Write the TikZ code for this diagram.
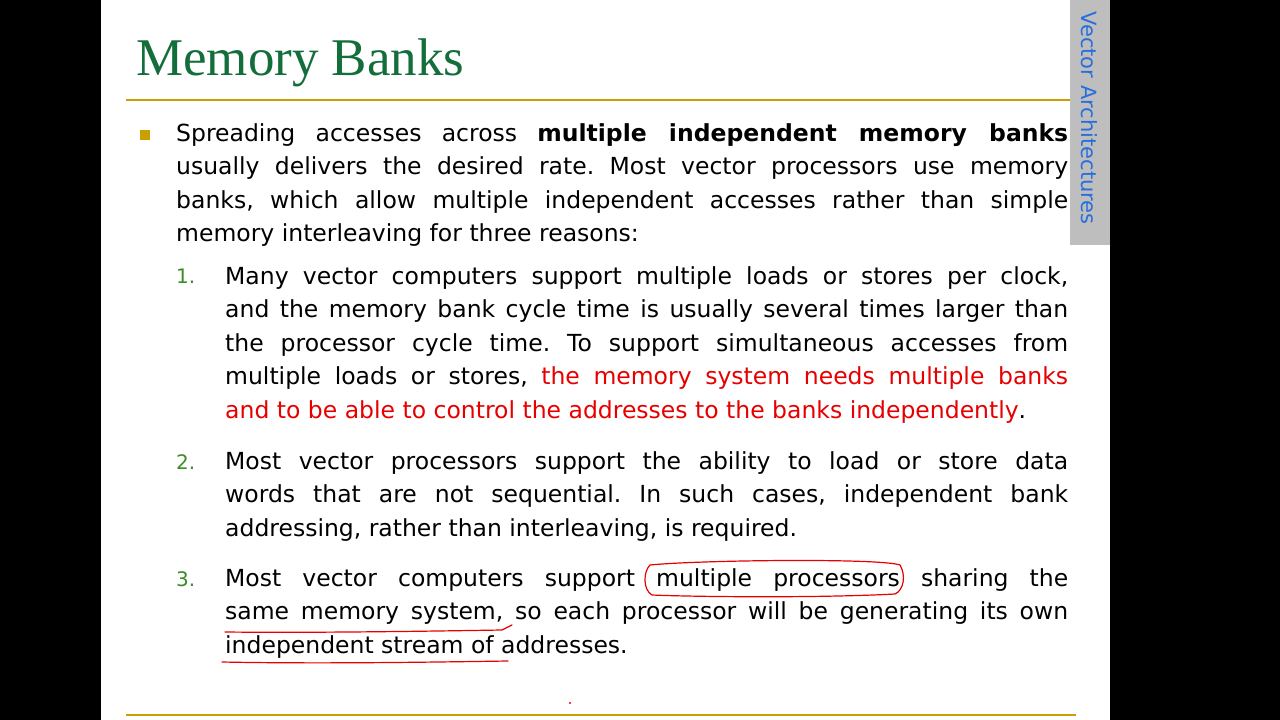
\documentclass[tikz,border=0pt]{standalone}
\usepackage{fontspec}
\setmainfont{Liberation Serif}
\newfontfamily\bodyf{DejaVu Sans}[Scale=1.0]
\frenchspacing
\definecolor{ttl}{RGB}{20,110,60}
\definecolor{gld}{RGB}{200,160,0}
\definecolor{tabg}{RGB}{190,190,190}
\definecolor{tabt}{RGB}{40,110,220}
\definecolor{rd}{RGB}{230,0,0}
\definecolor{num}{RGB}{60,140,40}
\tikzset{para/.style={anchor=north west,inner sep=0pt,align=justify,font=\bodyf\fontsize{23.5}{33.5}\selectfont},
num/.style={anchor=north west,inner sep=0pt,text=num,font=\bodyf\fontsize{20}{33.5}\selectfont},
pen/.style={draw=rd,line width=1.2pt,line cap=round}}
\begin{document}
\begin{tikzpicture}[x=1pt,y=-1pt]
\useasboundingbox (0,0) rectangle (1280,720);
\fill[black] (0,0) rectangle (1280,720);
\fill[white] (101,0) rectangle (1110,720);
\fill[tabg] (1070,0) rectangle (1110,245);
\node[rotate=-90,text=tabt,font=\bodyf\fontsize{21}{22}\selectfont,anchor=west] (tab) at (1089,8) {Vector Architectures};
\node[anchor=base west,inner sep=0pt,text=ttl,font=\fontsize{53}{55}\selectfont] (title) at (136,75) {Memory Banks};
\draw[gld,line width=1.5pt] (126,100) -- (1070,100);
\draw[gld,line width=1.5pt] (126,715) -- (1076,715);
\fill[gld] (140,130) rectangle (150,140);
\node[para,text width=892pt] (p0) at (176,123) {Spreading accesses across \textbf{multiple independent memory banks}\linebreak usually delivers the desired rate. Most vector processors use memory\linebreak banks, which allow multiple independent accesses rather than simple\linebreak memory interleaving for three reasons:};
\node[num] (n1) at (176,269) {1.};
\node[para,text width=843pt] (p1) at (225,266) {Many vector computers support multiple loads or stores per clock,\linebreak and the memory bank cycle time is usually several times larger than\linebreak the processor cycle time. To support simultaneous accesses from\linebreak multiple loads or stores, \textcolor{rd}{the memory system needs multiple banks}\linebreak \textcolor{rd}{and to be able to control the addresses to the banks independently}.};
\node[num] (n2) at (176,454) {2.};
\node[para,text width=843pt] (p2) at (225,451) {Most vector processors support the ability to load or store data\linebreak words that are not sequential. In such cases, independent bank\linebreak addressing, rather than interleaving, is required.};
\node[num] (n3) at (176,571) {3.};
\node[para,text width=843pt] (p3) at (225,568) {Most vector computers support multiple processors sharing the\linebreak same memory system, so each processor will be generating its own\linebreak independent stream of addresses.};
\draw[pen] (650,565) .. controls (700,560) and (880,558) .. (900,565) .. controls (906,575) and (904,590) .. (895,594) .. controls (820,598) and (700,597) .. (652,595) .. controls (643,590) and (643,572) .. (650,565);
\draw[pen] (225,632) .. controls (320,633) and (440,631) .. (502,630) -- (512,625);
\draw[pen] (222,662) .. controls (320,664) and (440,662) .. (508,661);
\fill[rd] (570,703) circle (1.2);
\end{tikzpicture}
\end{document}
